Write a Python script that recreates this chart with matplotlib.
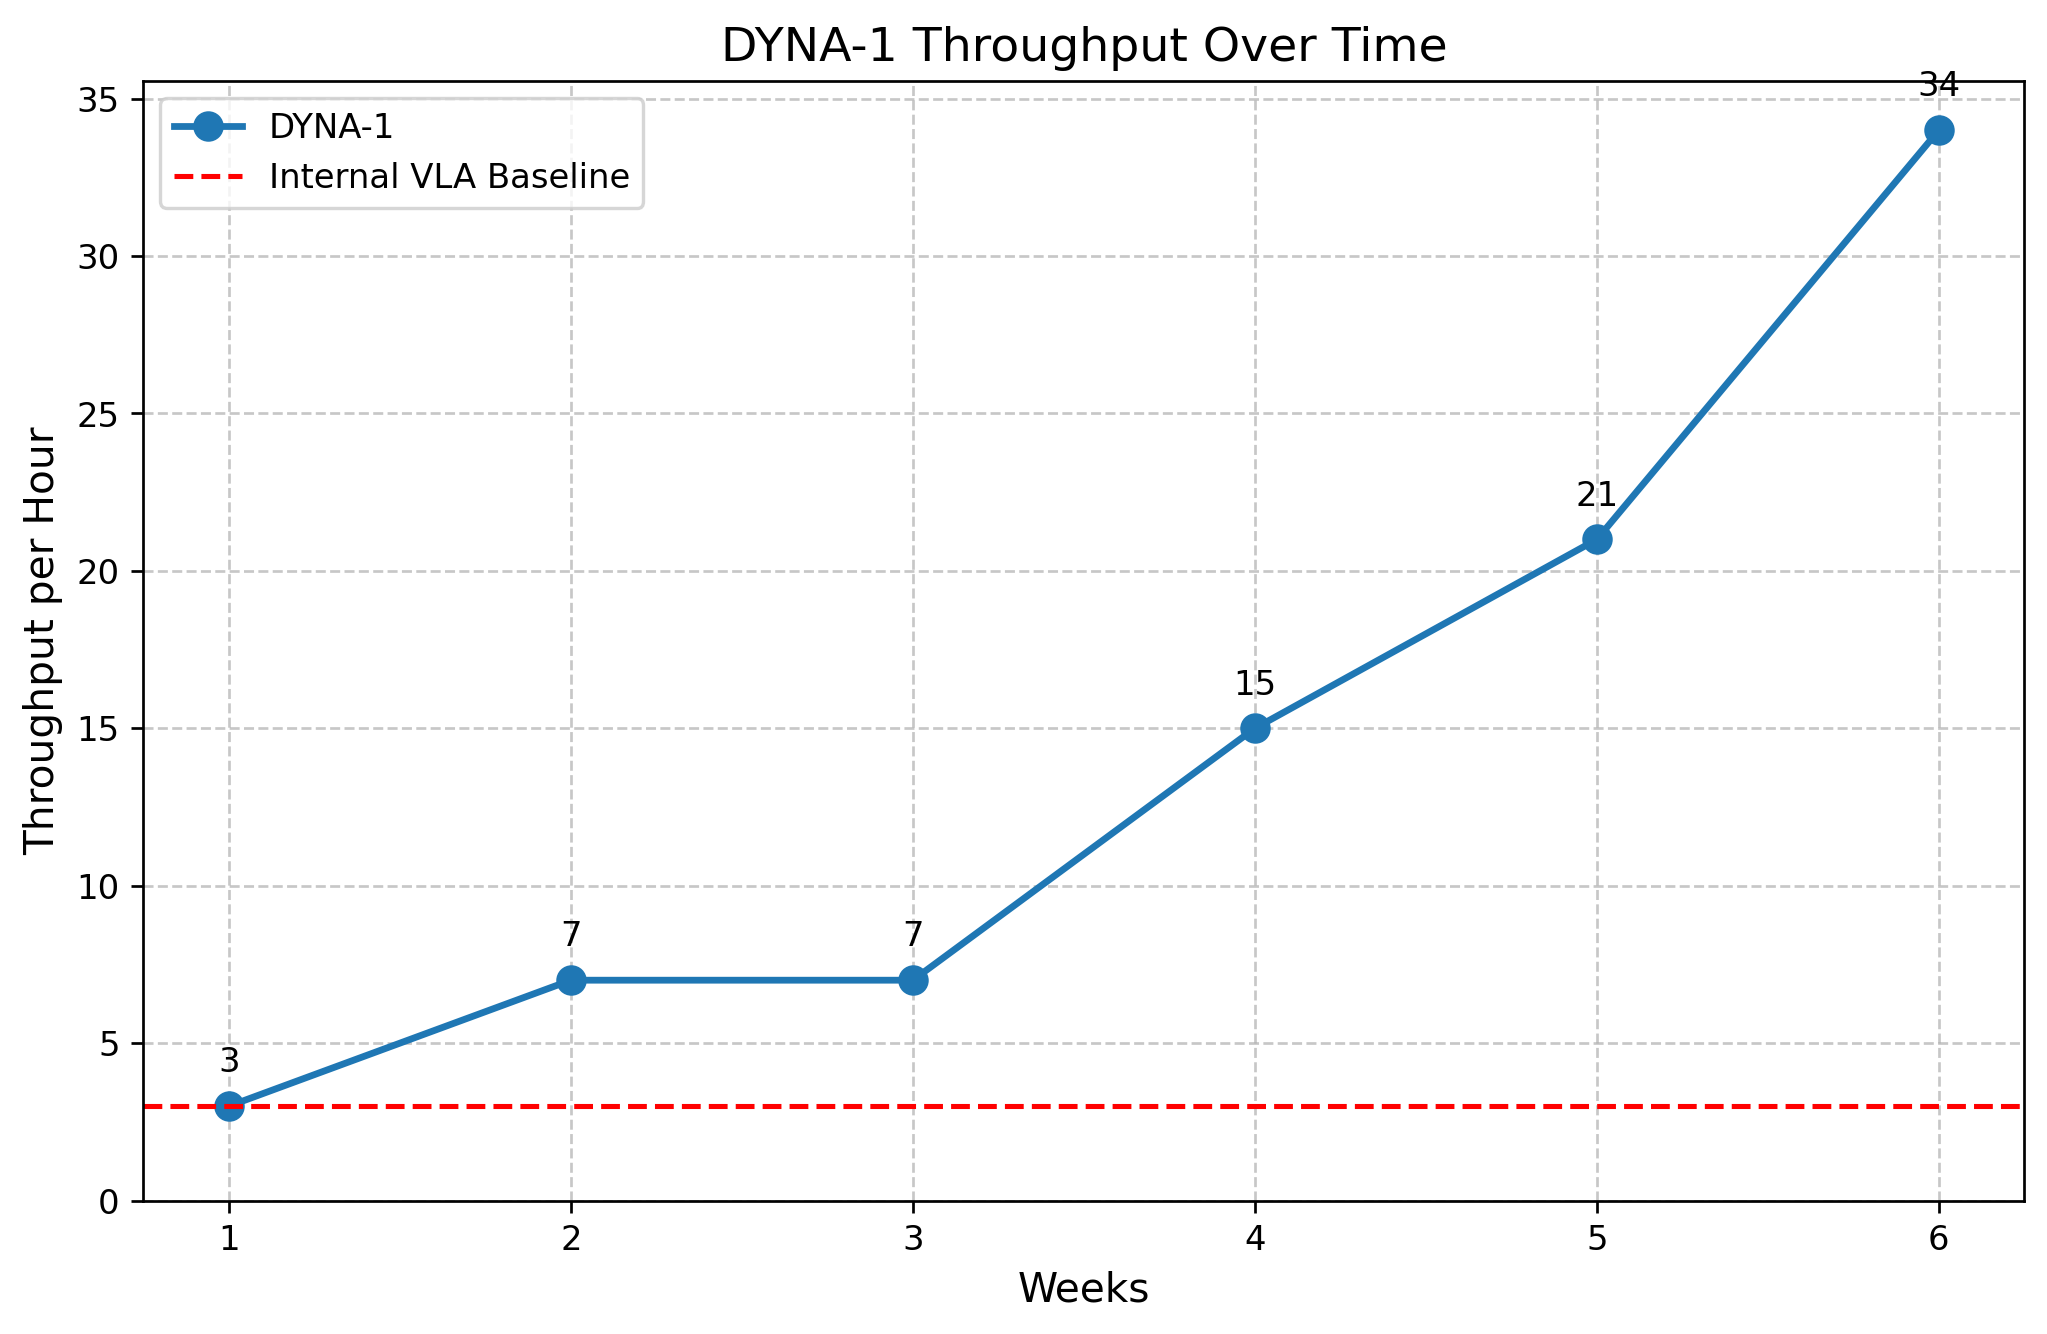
import matplotlib
matplotlib.use("Agg")
import matplotlib.pyplot as plt

# Data
weeks = [1, 2, 3, 4, 5, 6]
throughput = [3, 7, 7, 15, 21, 34]
baseline = 3

fig, ax = plt.subplots(figsize=(8.4, 5.472), dpi=243.8)

ax.plot(weeks, throughput, marker="o", linewidth=2, markersize=8,
        color="#1f77b4", label="DYNA-1")
ax.axhline(y=baseline, color="red", linestyle="--", label="Internal VLA Baseline")

for w, v in zip(weeks, throughput):
    ax.annotate(f"{v}", (w, v), textcoords="offset points", xytext=(0, 10),
                ha="center", fontsize=10)

ax.set_ylim(bottom=0)
ax.set_title("DYNA-1 Throughput Over Time", fontsize=14)
ax.set_xlabel("Weeks", fontsize=12)
ax.set_ylabel("Throughput per Hour", fontsize=12)
ax.grid(True, linestyle="--", alpha=0.7)
ax.legend(loc="upper left")

fig.subplots_adjust(left=0.070, right=0.9885, top=0.939, bottom=0.100)
plt.savefig("out.png", dpi=243.8)
